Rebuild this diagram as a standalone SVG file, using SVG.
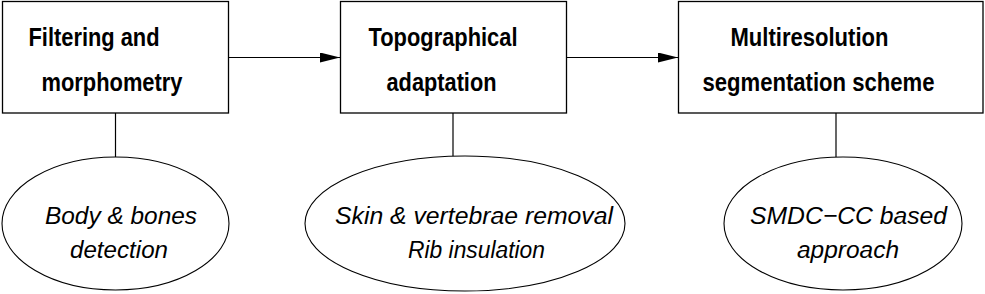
<svg xmlns="http://www.w3.org/2000/svg" width="985" height="294" viewBox="0 0 985 294">
<style>
.box{fill:#fff;stroke:#000;stroke-width:1.3}
.ell{fill:#fff;stroke:#000;stroke-width:1.1}
.ln{stroke:#000;stroke-width:1.2;fill:none}
.b{font-family:"Liberation Sans",Arial,sans-serif;font-weight:bold;font-size:26px;fill:#000}
.i{font-family:"Liberation Sans",Arial,sans-serif;font-style:italic;font-size:24.5px;fill:#000}
</style>
<defs>
<marker id="ah" markerWidth="20" markerHeight="10" refX="20" refY="5" orient="auto" markerUnits="userSpaceOnUse">
<path d="M0,0 L20,5 L0,10 Z" fill="#000"/>
</marker>
</defs>
<g id="connectors">
<line class="ln" x1="229" y1="57.5" x2="340" y2="57.5" marker-end="url(#ah)"/>
<line class="ln" x1="567" y1="57.5" x2="678" y2="57.5" marker-end="url(#ah)"/>
<line class="ln" x1="115.5" y1="113" x2="115.5" y2="157"/>
<line class="ln" x1="453" y1="113" x2="453" y2="156.5"/>
<line class="ln" x1="836" y1="113" x2="836" y2="157"/>
</g>
<g id="n1">
<rect class="box" x="2.5" y="1.5" width="226" height="111.5"/>
<text class="b" x="28.5" y="46" textLength="131" lengthAdjust="spacingAndGlyphs">Filtering and</text>
<text class="b" x="41.5" y="90.5" textLength="141" lengthAdjust="spacingAndGlyphs">morphometry</text>
</g>
<g id="n2">
<rect class="box" x="340.5" y="1.5" width="226" height="111.5"/>
<text class="b" x="368.5" y="46" textLength="149" lengthAdjust="spacingAndGlyphs">Topographical</text>
<text class="b" x="386.5" y="90.5" textLength="110" lengthAdjust="spacingAndGlyphs">adaptation</text>
</g>
<g id="n3">
<rect class="box" x="678.5" y="1.5" width="304.5" height="111.5"/>
<text class="b" x="730.5" y="46" textLength="158" lengthAdjust="spacingAndGlyphs">Multiresolution</text>
<text class="b" x="702.5" y="90.5" textLength="232" lengthAdjust="spacingAndGlyphs">segmentation scheme</text>
</g>
<g id="e1">
<ellipse class="ell" cx="115.5" cy="223.5" rx="113.5" ry="66.5"/>
<text class="i" x="45" y="224" textLength="152" lengthAdjust="spacingAndGlyphs">Body &amp; bones</text>
<text class="i" x="70" y="257.5" textLength="98" lengthAdjust="spacingAndGlyphs">detection</text>
</g>
<g id="e2">
<ellipse class="ell" cx="465" cy="223.5" rx="160" ry="67.5"/>
<text class="i" x="335" y="224" textLength="278" lengthAdjust="spacingAndGlyphs">Skin &amp; vertebrae removal</text>
<text class="i" x="408" y="257.5" textLength="137" lengthAdjust="spacingAndGlyphs">Rib insulation</text>
</g>
<g id="e3">
<ellipse class="ell" cx="843" cy="223.5" rx="119" ry="66.5"/>
<text class="i" x="750" y="224" textLength="197" lengthAdjust="spacingAndGlyphs">SMDC−CC based</text>
<text class="i" x="797" y="257.5" textLength="102" lengthAdjust="spacingAndGlyphs">approach</text>
</g>
</svg>
